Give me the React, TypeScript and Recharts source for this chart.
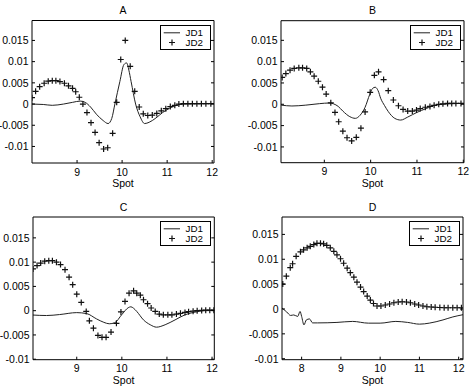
import React from 'react';
import { ComposedChart, Line, Scatter, XAxis, YAxis, Legend } from 'recharts';

const FONT = "'Liberation Sans', Arial, Helvetica, sans-serif";
const FS = 10.5;

// ---------- tick labels ----------
const Y_TICKS = [-0.01, -0.005, 0, 0.005, 0.01, 0.015];
const Y_TICK_LABELS = ['-0.01', '-0.005', '0', '0.005', '0.01', '0.015'];
const X_TICKS_ABC = [9, 10, 11, 12];
const X_TICKS_D = [8, 9, 10, 11, 12];
const TITLES = ['A', 'B', 'C', 'D'];
const SERIES_NAMES = ['JD1', 'JD2'];
const X_LABEL = 'Spot';

// ---------- Panel A ----------
const aJd1X = [8.0, 8.25, 8.45, 8.7, 8.9, 9.07, 9.18, 9.3, 9.43, 9.58, 9.69, 9.77, 9.84, 9.95, 10.04, 10.1, 10.15, 10.2, 10.3, 10.4, 10.5, 10.6, 10.75, 10.9, 11.05, 11.2, 11.4, 12.04];
const aJd1Y = [0.0, -0.0001, -0.0003, 0.0, 0.0004, 0.0007, 0.0004, -0.0007, -0.0024, -0.0039, -0.0046, -0.0034, 0.0, 0.0053, 0.0093, 0.0097, 0.008, 0.0053, 0.0, -0.003, -0.0046, -0.0043, -0.0033, -0.002, -0.001, -0.0003, 0.0, 0.0001];
const aJd2X = [8.0, 8.08, 8.17, 8.27, 8.36, 8.45, 8.53, 8.62, 8.72, 8.81, 8.9, 8.97, 9.05, 9.13, 9.22, 9.31, 9.4, 9.49, 9.59, 9.68, 9.79, 9.88, 9.97, 10.07, 10.18, 10.28, 10.38, 10.47, 10.57, 10.67, 10.77, 10.87, 10.97, 11.07, 11.17, 11.26, 11.36, 11.46, 11.56, 11.66, 11.76, 11.86, 11.97];
const aJd2Y = [0.0015, 0.003, 0.0041, 0.0049, 0.0054, 0.0055, 0.0055, 0.0053, 0.0049, 0.0043, 0.0037, 0.0029, 0.0016, 0.0, -0.002, -0.0044, -0.0067, -0.0091, -0.0106, -0.0103, -0.0069, 0.0004, 0.0105, 0.015, 0.0089, 0.003, -0.0007, -0.0023, -0.0027, -0.0026, -0.0022, -0.0016, -0.0011, -0.0006, -0.0003, 0.0, 0.0001, 0.0001, 0.0001, 0.0001, 0.0001, 0.0001, 0.0001];

// ---------- Panel B ----------
const bJd1X = [8.07, 8.3, 8.6, 8.9, 9.1, 9.2, 9.3, 9.4, 9.55, 9.67, 9.77, 9.88, 9.98, 10.04, 10.1, 10.16, 10.22, 10.3, 10.38, 10.52, 10.65, 10.8, 11.0, 11.2, 11.4, 11.7, 12.01];
const bJd1Y = [-0.0002, -0.0004, -0.0002, 0.00015, 0.0003, 0.0001, -0.0005, -0.0016, -0.0029, -0.0033, -0.0026, -0.0007, 0.0023, 0.0037, 0.004, 0.0032, 0.0013, -0.0003, -0.0017, -0.0033, -0.0037, -0.003, -0.0019, -0.001, -0.0002, 0.0001, 0.0002];
const bJd2X = [8.09, 8.17, 8.26, 8.35, 8.45, 8.53, 8.62, 8.7, 8.78, 8.87, 8.96, 9.04, 9.14, 9.23, 9.31, 9.4, 9.49, 9.59, 9.69, 9.79, 9.88, 9.99, 10.08, 10.17, 10.28, 10.38, 10.49, 10.6, 10.7, 10.8, 10.9, 10.99, 11.07, 11.18, 11.28, 11.37, 11.47, 11.56, 11.66, 11.75, 11.84, 11.95];
const bJd2Y = [0.0063, 0.0072, 0.008, 0.0084, 0.00855, 0.00855, 0.0084, 0.0076, 0.0066, 0.0054, 0.004, 0.0024, 0.00035, -0.0019, -0.0041, -0.0063, -0.00785, -0.0086, -0.00775, -0.0056, -0.0018, 0.0028, 0.0068, 0.0076, 0.0058, 0.0032, 0.001, -0.00035, -0.0012, -0.0016, -0.0016, -0.00135, -0.001, -0.0007, -0.0005, -0.00025, 0.0, 0.0001, 0.0002, 0.0002, 0.0002, 0.0002];

// ---------- Panel C ----------
const cJd1X = [8.03, 8.33, 8.62, 9.0, 9.22, 9.44, 9.6, 9.72, 9.84, 10.0, 10.14, 10.2, 10.26, 10.33, 10.48, 10.63, 10.77, 10.96, 11.18, 11.4, 11.62, 11.84, 12.05];
const cJd1Y = [-0.0009, -0.001, -0.0008, -0.0004, -0.0006, -0.0017, -0.0024, -0.0027, -0.0025, -0.0008, 0.0006, 0.0008, 0.0005, -0.00015, -0.0019, -0.0029, -0.0034, -0.0029, -0.0019, -0.00085, -0.0003, 0.0, 0.00005];
const cJd2X = [8.03, 8.12, 8.2, 8.29, 8.38, 8.46, 8.55, 8.64, 8.74, 8.83, 8.91, 9.0, 9.1, 9.21, 9.28, 9.37, 9.47, 9.56, 9.65, 9.76, 9.88, 9.98, 10.07, 10.16, 10.26, 10.33, 10.41, 10.48, 10.57, 10.65, 10.74, 10.83, 10.92, 11.02, 11.11, 11.21, 11.3, 11.4, 11.48, 11.58, 11.67, 11.77, 11.86, 11.95, 12.04];
const cJd2Y = [0.0086, 0.0093, 0.0098, 0.0102, 0.0103, 0.0103, 0.01, 0.0095, 0.00845, 0.0069, 0.00535, 0.0034, 0.0017, -0.00015, -0.0021, -0.0036, -0.0051, -0.0055, -0.0055, -0.0044, -0.0026, -0.00025, 0.0019, 0.0036, 0.0041, 0.0036, 0.0032, 0.00225, 0.00145, 0.00055, -0.00015, -0.0007, -0.00085, -0.00085, -0.00085, -0.0007, -0.00055, -0.00035, -0.0002, -0.0001, 0.0, 0.00005, 0.0001, 0.0001, 0.0001];

// ---------- Panel D ----------
const dJd1X = [7.5, 7.62, 7.72, 7.8, 7.9, 7.96, 8.0, 8.06, 8.12, 8.2, 8.28, 8.4, 8.9, 9.3, 9.7, 10.0, 10.4, 10.7, 11.0, 11.25, 11.6, 11.85, 12.11];
const dJd1Y = [0.0002, -0.0006, -0.0013, -0.0012, -0.0015, -0.0005, -0.0015, -0.0032, -0.0022, -0.002, -0.0028, -0.0028, -0.0027, -0.0025, -0.00285, -0.00285, -0.0025, -0.0027, -0.00305, -0.00285, -0.0022, -0.0016, -0.00115];
const dJd2X = [7.52, 7.61, 7.71, 7.77, 7.86, 7.97, 8.05, 8.14, 8.22, 8.31, 8.39, 8.48, 8.56, 8.64, 8.73, 8.82, 8.9, 8.99, 9.07, 9.16, 9.24, 9.33, 9.41, 9.5, 9.58, 9.67, 9.75, 9.83, 9.92, 10.02, 10.13, 10.24, 10.35, 10.46, 10.56, 10.67, 10.77, 10.88, 10.98, 11.09, 11.19, 11.3, 11.4, 11.52, 11.63, 11.73, 11.85, 11.96, 12.07];
const dJd2Y = [0.005, 0.0066, 0.0083, 0.0091, 0.0106, 0.0115, 0.0119, 0.0123, 0.0126, 0.01295, 0.0132, 0.0132, 0.0131, 0.0128, 0.0123, 0.0116, 0.0109, 0.0101, 0.0092, 0.0082, 0.0073, 0.0064, 0.0054, 0.0044, 0.0035, 0.0026, 0.0018, 0.0011, 0.0006, 0.0006, 0.0008, 0.001, 0.00125, 0.0014, 0.00145, 0.0014, 0.00125, 0.001, 0.0008, 0.0006, 0.00045, 0.0004, 0.00035, 0.0003, 0.00025, 0.00025, 0.00025, 0.00025, 0.00025];

type Pt = { x: number; y: number };
const zip = (xs: number[], ys: number[]): Pt[] => xs.map((x, i) => ({ x, y: ys[i] }));

const textProps = { fontSize: FS, fontFamily: FONT, fill: '#000' };

const BottomTick = (p: any) => (
  <g>
    <line x1={p.x} x2={p.x} y1={p.y} y2={p.y - 3} stroke="#000" strokeWidth={1} />
    <text x={p.x} y={p.y + 12.5} textAnchor="middle" {...textProps}>
      {String(p.payload.value)}
    </text>
  </g>
);
const TopTick = (p: any) => (
  <line x1={p.x} x2={p.x} y1={p.y} y2={p.y + 3} stroke="#000" strokeWidth={1} />
);
const LeftTick = (p: any) => {
  const idx = Y_TICKS.indexOf(p.payload.value);
  return (
    <g>
      <line x1={p.x} x2={p.x + 3} y1={p.y} y2={p.y} stroke="#000" strokeWidth={1} />
      <text x={p.x - 3.5} y={p.y + 3.8} textAnchor="end" {...textProps}>
        {idx >= 0 ? Y_TICK_LABELS[idx] : String(p.payload.value)}
      </text>
    </g>
  );
};
const RightTick = (p: any) => (
  <line x1={p.x} x2={p.x - 3} y1={p.y} y2={p.y} stroke="#000" strokeWidth={1} />
);

const PlusShape = (p: any) => {
  if (p.cx == null || p.cy == null) return <g />;
  const r = 3;
  return (
    <path
      d={`M${p.cx - r},${p.cy}H${p.cx + r}M${p.cx},${p.cy - r}V${p.cy + r}`}
      stroke="#111"
      strokeWidth={1.2}
      fill="none"
    />
  );
};

const legendText = { fontSize: 9.8, fontFamily: FONT, fill: '#000' };
const LegendBox = () => (
  <svg width={51} height={25} style={{ display: 'block' }}>
    <rect x={0.5} y={0.5} width={50} height={24} fill="#fff" stroke="#000" strokeWidth={1} />
    <line x1={3.7} x2={20} y1={7.8} y2={7.8} stroke="#222" strokeWidth={1} />
    <path d="M9,17.5H15M12,14.5V20.5" stroke="#111" strokeWidth={1.2} fill="none" />
    <text x={25.5} y={11.2} {...legendText}>{SERIES_NAMES[0]}</text>
    <text x={25.5} y={21.3} {...legendText}>{SERIES_NAMES[1]}</text>
  </svg>
);

type PanelProps = {
  left: number;
  top: number;
  plot: [number, number, number, number];
  xDomain: [number, number];
  yDomain: [number, number];
  xTicks: number[];
  title: string;
  jd1: Pt[];
  jd2: Pt[];
};

function Panel({ left, top, plot, xDomain, yDomain, xTicks, title, jd1, jd2 }: PanelProps) {
  const W = 237;
  const H = 200;
  const [x0, y0, x1, y1] = plot;
  const margin = { left: x0 - 10, right: W - x1 - 1, top: y0 - 1, bottom: H - y1 - 10 };
  return (
    <div style={{ position: 'absolute', left, top, width: W, height: H }}>
      <ComposedChart width={W} height={H} margin={margin}>
        <XAxis
          xAxisId="b"
          type="number"
          dataKey="x"
          domain={xDomain}
          ticks={xTicks}
          allowDataOverflow
          interval={0}
          height={10}
          tickSize={0}
          tickMargin={0}
          tickLine={false}
          axisLine={{ stroke: '#000', strokeWidth: 1 }}
          tick={BottomTick}
          label={{
            position: 'bottom',
            content: (lp: any) => {
              const vb = lp.viewBox || {};
              return (
                <text x={vb.x + vb.width / 2} y={vb.y + 24} textAnchor="middle" {...textProps}>
                  {X_LABEL}
                </text>
              );
            },
          }}
        />
        <XAxis
          xAxisId="t"
          orientation="top"
          type="number"
          domain={xDomain}
          ticks={xTicks}
          allowDataOverflow
          interval={0}
          height={1}
          tickSize={0}
          tickMargin={0}
          tickLine={false}
          axisLine={{ stroke: '#000', strokeWidth: 1 }}
          tick={TopTick}
          label={{
            position: 'top',
            content: (lp: any) => {
              const vb = lp.viewBox || {};
              return (
                <text x={vb.x + vb.width / 2} y={vb.y + vb.height - 6.5} textAnchor="middle" {...textProps}>
                  {title}
                </text>
              );
            },
          }}
        />
        <YAxis
          yAxisId="l"
          type="number"
          dataKey="y"
          domain={yDomain}
          ticks={Y_TICKS}
          allowDataOverflow
          interval={0}
          width={10}
          tickSize={0}
          tickMargin={0}
          tickLine={false}
          axisLine={{ stroke: '#000', strokeWidth: 1 }}
          tick={LeftTick}
        />
        <YAxis
          yAxisId="r"
          orientation="right"
          type="number"
          domain={yDomain}
          ticks={Y_TICKS}
          allowDataOverflow
          interval={0}
          width={1}
          tickSize={0}
          tickMargin={0}
          tickLine={false}
          axisLine={{ stroke: '#000', strokeWidth: 1 }}
          tick={RightTick}
        />
        <Line
          xAxisId="b"
          yAxisId="l"
          data={jd1}
          dataKey="y"
          name={SERIES_NAMES[0]}
          type="monotone"
          stroke="#222"
          strokeWidth={1}
          dot={false}
          activeDot={false}
          isAnimationActive={false}
        />
        <Scatter
          xAxisId="b"
          yAxisId="l"
          data={jd2}
          dataKey="y"
          name={SERIES_NAMES[1]}
          shape={PlusShape}
          isAnimationActive={false}
        />
        <Legend
          layout="horizontal"
          verticalAlign="middle"
          align="center"
          content={() => <LegendBox />}
          wrapperStyle={{ position: 'absolute', left: x1 - 3.5 - 51, top: y0 + 4.3, width: 51, height: 25, margin: 0, padding: 0 }}
        />
      </ComposedChart>
    </div>
  );
}

export default function App() {
  return (
    <div style={{ position: 'absolute', left: 0, top: 0, width: 474, height: 386, background: '#fff', overflow: 'hidden' }}>
      <Panel left={0} top={0} plot={[32, 20.5, 214, 163]} xDomain={[8.0, 12.04]} yDomain={[-0.0139, 0.0197]} xTicks={X_TICKS_ABC} title={TITLES[0]} jd1={zip(aJd1X, aJd1Y)} jd2={zip(aJd2X, aJd2Y)} />
      <Panel left={237} top={0} plot={[44, 20.7, 227, 162.7]} xDomain={[8.065, 12.015]} yDomain={[-0.0137, 0.0196]} xTicks={X_TICKS_ABC} title={TITLES[1]} jd1={zip(bJd1X, bJd1Y)} jd2={zip(bJd2X, bJd2Y)} />
      <Panel left={0} top={193} plot={[33, 24, 214.3, 166.7]} xDomain={[8.03, 12.05]} yDomain={[-0.0101, 0.0193]} xTicks={X_TICKS_ABC} title={TITLES[2]} jd1={zip(cJd1X, cJd1Y)} jd2={zip(cJd2X, cJd2Y)} />
      <Panel left={237} top={193} plot={[45, 24, 226, 166.7]} xDomain={[7.5, 12.11]} yDomain={[-0.0102, 0.0185]} xTicks={X_TICKS_D} title={TITLES[3]} jd1={zip(dJd1X, dJd1Y)} jd2={zip(dJd2X, dJd2Y)} />
    </div>
  );
}
